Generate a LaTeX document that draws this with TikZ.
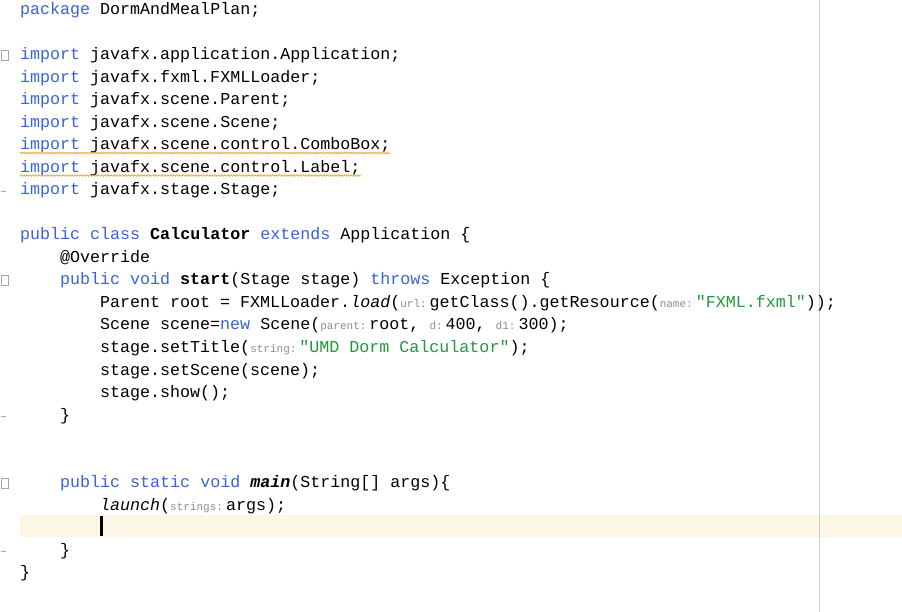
\documentclass[tikz,border=0pt]{standalone}
\usepackage{fontspec}
\newfontfamily\codefont{Liberation Mono}
\usetikzlibrary{decorations.pathmorphing}
\definecolor{kw}{HTML}{3B63D8}
\definecolor{str}{HTML}{23983C}
\definecolor{hintc}{HTML}{8C8C8C}
\definecolor{hl}{HTML}{FCF6E4}
\definecolor{warn}{HTML}{F0A30A}
\newcommand{\kw}[1]{\textcolor{kw}{#1}}
\newcommand{\st}[1]{\textcolor{str}{#1}}
\newcommand{\hn}[1]{{\fontsize{11}{11}\selectfont\textcolor{hintc}{#1}}\hspace{3pt}}
\tikzset{codeline/.style={anchor=base west,inner sep=0pt,font=\codefont\fontsize{16.67}{20}\selectfont},
fold/.style={draw=gray!70,line width=0.6pt}}
\begin{document}
\begin{tikzpicture}[x=1pt,y=-1pt]
\useasboundingbox[fill=white] (0,0) rectangle (902,612);
\fill[hl] (20,515) rectangle (902,537);
\draw[gray!40,line width=0.8pt] (819,0) -- (819,612);
% fold markers
\foreach \yy in {55,280,483}{\draw[fold,fill=white] (1,\yy-5) rectangle (8,\yy+5);}
\foreach \yy in {190,415,550}{\draw[fold] (1,\yy+1) -- (6,\yy+1);}
\node[codeline] (l0) at (20,15) {\kw{package} DormAndMealPlan;};
\node[codeline] (l2) at (20,60) {\kw{import} javafx.application.Application;};
\node[codeline] (l3) at (20,82.5) {\kw{import} javafx.fxml.FXMLLoader;};
\node[codeline] (l4) at (20,105) {\kw{import} javafx.scene.Parent;};
\node[codeline] (l5) at (20,127.5) {\kw{import} javafx.scene.Scene;};
\node[codeline] (l6) at (20,150) {\kw{import} javafx.scene.control.ComboBox;};
\node[codeline] (l7) at (20,172.5) {\kw{import} javafx.scene.control.Label;};
\node[codeline] (l8) at (20,195) {\kw{import} javafx.stage.Stage;};
\node[codeline] (l10) at (20,240) {\kw{public} \kw{class} \textbf{Calculator} \kw{extends} Application \{};
\node[codeline] (l11) at (60,262.5) {@Override};
\node[codeline] (l12) at (60,285) {\kw{public} \kw{void} \textbf{start}(Stage stage) \kw{throws} Exception \{};
\node[codeline] (l13) at (100,307.5) {Parent root = FXMLLoader.\textit{load}(\hn{url:}getClass().getResource(\hn{name:}\st{"FXML.fxml"}));};
\node[codeline] (l14) at (100,330) {Scene scene=\kw{new} Scene(\hn{parent:}root, \hn{d:}400, \hn{d1:}300);};
\node[codeline] (l15) at (100,352.5) {stage.setTitle(\hn{string:}\st{"UMD Dorm Calculator"});};
\node[codeline] (l16) at (100,375) {stage.setScene(scene);};
\node[codeline] (l17) at (100,397.5) {stage.show();};
\node[codeline] (l18) at (60,420) {\}};
\node[codeline] (l21) at (60,487.5) {\kw{public} \kw{static} \kw{void} \textbf{\textit{main}}(String[] args)\{};
\node[codeline] (l22) at (100,510) {\textit{launch}(\hn{strings:}args);};
\node[codeline] (l24) at (60,555) {\}};
\node[codeline] (l25) at (20,577.5) {\}};
\coordinate (cur) at (100,516);
\fill[black] (cur) rectangle ++(2.5,20);
\draw[warn,line width=0.7pt,decorate,decoration={snake,amplitude=0.8pt,segment length=3pt}] ([yshift=-3pt]l6.base west) -- ([yshift=-3pt]l6.base east);
\draw[warn,line width=0.7pt,decorate,decoration={snake,amplitude=0.8pt,segment length=3pt}] ([yshift=-3pt]l7.base west) -- ([yshift=-3pt]l7.base east);
\end{tikzpicture}
\end{document}
